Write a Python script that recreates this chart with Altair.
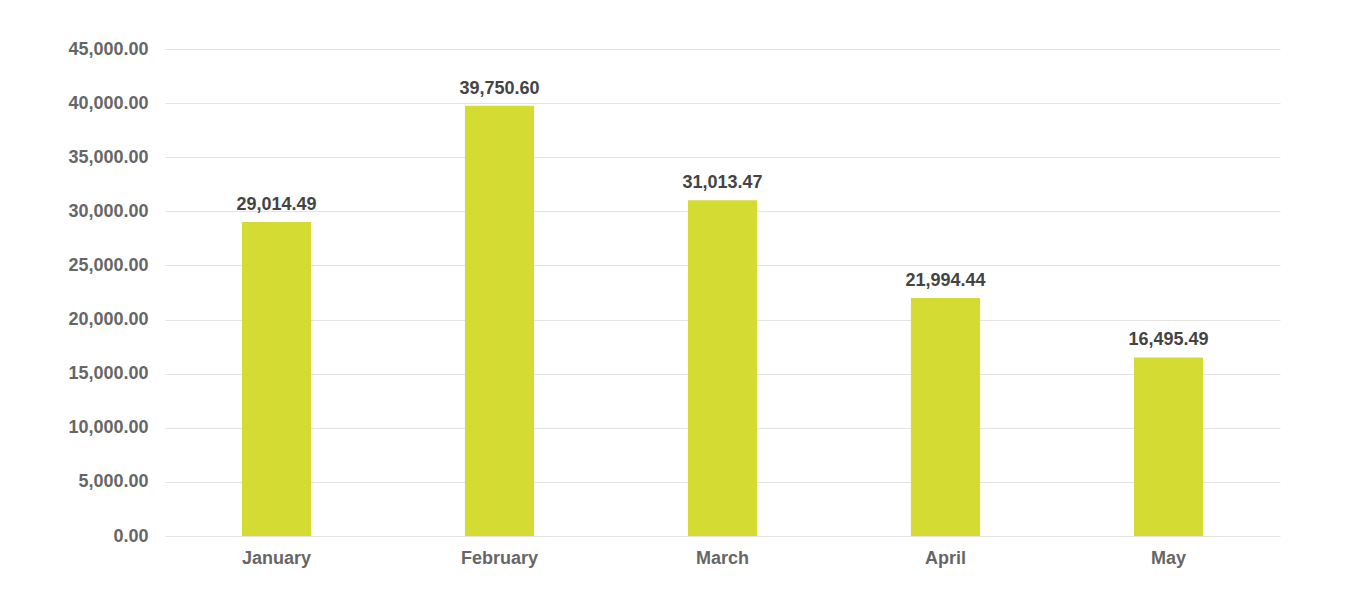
import altair as alt
import pandas as pd

months = ["January", "February", "March", "April", "May"]
values = [29014.49, 39750.60, 31013.47, 21994.44, 16495.49]

df = pd.DataFrame({"month": months, "value": values})

base = alt.Chart(df).encode(
    x=alt.X("month:N", sort=months, title=None,
            scale=alt.Scale(paddingInner=0.69, paddingOuter=0.345),
            axis=alt.Axis(labelAngle=0, labelFont="Liberation Sans", labelFontSize=18,
                          labelFontWeight="bold", labelColor="#666666", ticks=False,
                          domain=False, labelPadding=13, grid=False)),
    y=alt.Y("value:Q", title=None,
            scale=alt.Scale(domain=[0, 45000]),
            axis=alt.Axis(values=list(range(0, 45001, 5000)), format=",.2f",
                          labelFont="Liberation Sans", labelFontSize=18, labelFontWeight="bold",
                          labelColor="#666666", ticks=False, domain=False, labelPadding=17,
                          gridColor="#e3e3e3", gridWidth=1)),
)

bars = base.mark_bar(color="#d4db33")
labels = base.mark_text(baseline="bottom", dy=-8, font="Liberation Sans", fontSize=18,
                        fontWeight="bold", color="#444444").encode(
    text=alt.Text("value:Q", format=",.2f"))

chart = (bars + labels).properties(
    width=1115, height=487,
    autosize=alt.AutoSizeParams(type="none"),
    padding={"left": 157, "top": 41, "right": 50, "bottom": 50},
).configure(background="white").configure_view(stroke=None)

chart.save("out.html", embed_options={"renderer": "svg", "actions": False})
